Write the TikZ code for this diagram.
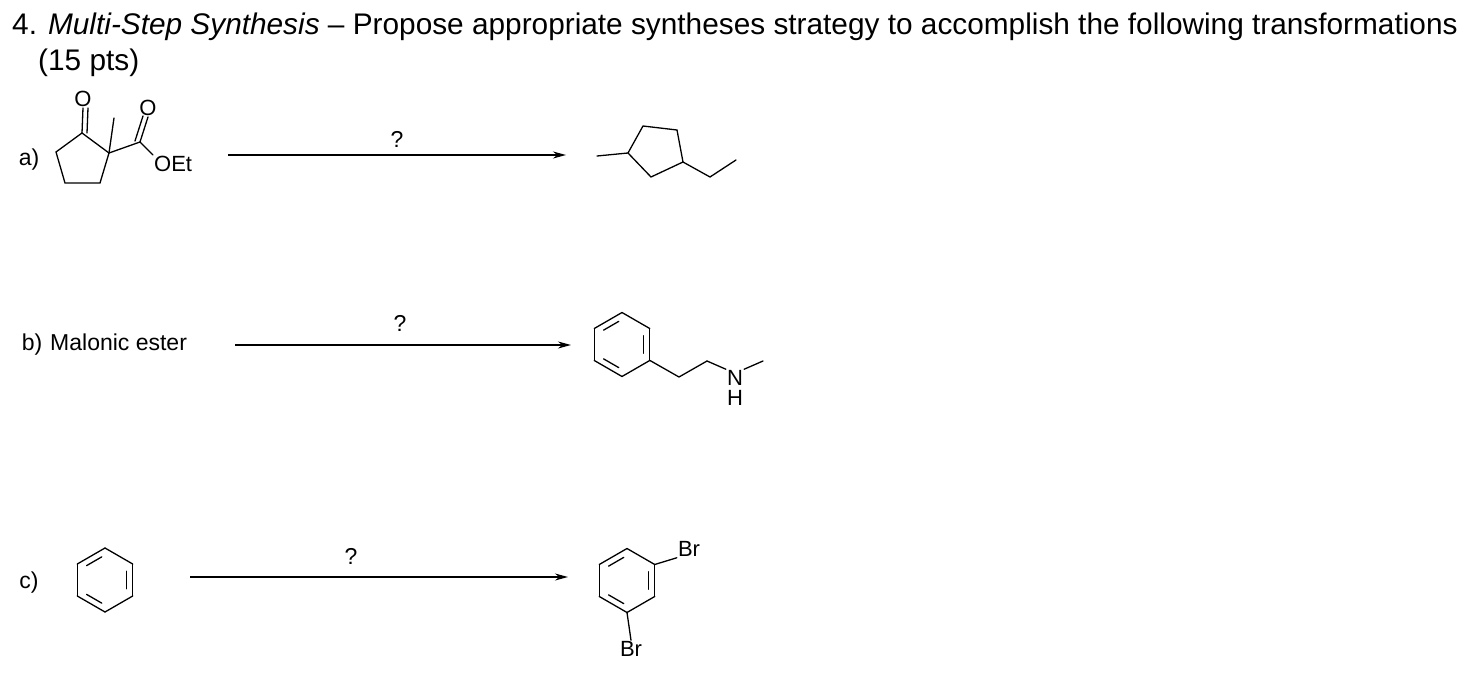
\documentclass[tikz,border=0pt]{standalone}
\usepackage{fontspec}
\setmainfont{Liberation Sans}
\usetikzlibrary{arrows.meta,calc}
\begin{document}
\begin{tikzpicture}[x=1pt,y=-1pt,
  bond/.style={line width=1.3pt,line cap=round},
  rxn/.style={line width=1.3pt,-{Stealth[length=13pt,width=7pt]}},
  lbl/.style={font=\fontsize{23}{26}\selectfont,inner sep=0pt},
  atom/.style={font=\fontsize{22}{24}\selectfont,inner sep=1pt},
  pics/benz/.style={code={
    \foreach \a in {30,90,...,330}{\draw[bond] (\a:32) -- (\a+60:32);}
    \foreach \a in {90,210,330}{\draw[bond] ($(\a:25)!0.15!(\a+60:25)$) -- ($(\a:25)!0.85!(\a+60:25)$);}
  }}]
\useasboundingbox (0,0) rectangle (1476,690);
% title
\node[anchor=west,inner sep=0pt,font=\fontsize{29.8}{34}\selectfont] (title) at (12,27) {4. \textit{Multi-Step Synthesis} -- Propose appropriate syntheses strategy to accomplish the following transformations};
\node[anchor=west,inner sep=0pt,font=\fontsize{29.8}{34}\selectfont] (pts) at (38,63) {(15 pts)};
% labels
\node[lbl] (la) at (29,160) {a)};
\node[lbl] (lb) at (32,345) {b)};
\node[lbl] (lc) at (29,583) {c)};
\node[lbl,anchor=west] (mal) at (50,342) {Malonic ester};
% arrows
\coordinate (a1) at (228,155); \coordinate (a2) at (566,155);
\draw[rxn] (a1) -- (a2);
\node[lbl] (qa) at (397,139) {?};
\coordinate (b1) at (235,345); \coordinate (b2) at (571,345);
\draw[rxn] (b1) -- (b2);
\node[lbl] (qb) at (400,323) {?};
\coordinate (c1) at (190,577); \coordinate (c2) at (568,577);
\draw[rxn] (c1) -- (c2);
\node[lbl] (qc) at (351,556) {?};
% molecule a reactant
\coordinate (r1) at (109,153); \coordinate (r2) at (82,133); \coordinate (r3) at (56,152);
\coordinate (r4) at (65,183); \coordinate (r5) at (100,183);
\draw[bond] (r1)--(r2)--(r3)--(r4)--(r5)--cycle;
\node[atom] (o1) at (83,99) {O};
\draw[bond] (r2) -- (o1.south);
\draw[bond] ($(r2)+(5,0)$) -- ($(o1.south)+(5,0)$);
\coordinate (me) at (114,118);
\draw[bond] (r1) -- (me);
\coordinate (ec) at (140,142);
\draw[bond] (r1) -- (ec);
\node[atom] (o2) at (148,108) {O};
\draw[bond] (ec) -- (o2.south);
\draw[bond] ($(ec)+(-5,-1)$) -- ($(o2.south)+(-5,-1)$);
\node[atom,anchor=west] (oet) at (153,164) {OEt};
\draw[bond] (ec) -- (oet.north west);
% product a
\coordinate (p1) at (628,153); \coordinate (p2) at (643,126); \coordinate (p3) at (677,130);
\coordinate (p4) at (683,162); \coordinate (p5) at (651,177);
\draw[bond] (p1)--(p2)--(p3)--(p4)--(p5)--cycle;
\coordinate (pm) at (597,156);
\draw[bond] (p1) -- (pm);
\coordinate (pe1) at (710,177); \coordinate (pe2) at (736,160);
\draw[bond] (p4) -- (pe1) -- (pe2);
% product b
\pic at (622,344.5) {benz};
\coordinate (bc1) at (650,360.5); \coordinate (bc2) at (679,377); \coordinate (bc3) at (707,361);
\draw[bond] (bc1) -- (bc2) -- (bc3);
\node[atom] (n) at (735,378) {N};
\node[atom] (h) at (735,398) {H};
\draw[bond] (bc3) -- (n.north west);
\coordinate (nm) at (763,361);
\draw[bond] (n.north east) -- (nm);
% reactant c
\pic at (105,580) {benz};
% product c
\pic at (627,580.5) {benz};
\node[atom] (br1) at (689,549) {Br};
\node[atom] (br2) at (631,649) {Br};
\draw[bond] (654.7,564.5) -- (br1.south west);
\draw[bond] (627,612.5) -- (br2.north);
\end{tikzpicture}
\end{document}
